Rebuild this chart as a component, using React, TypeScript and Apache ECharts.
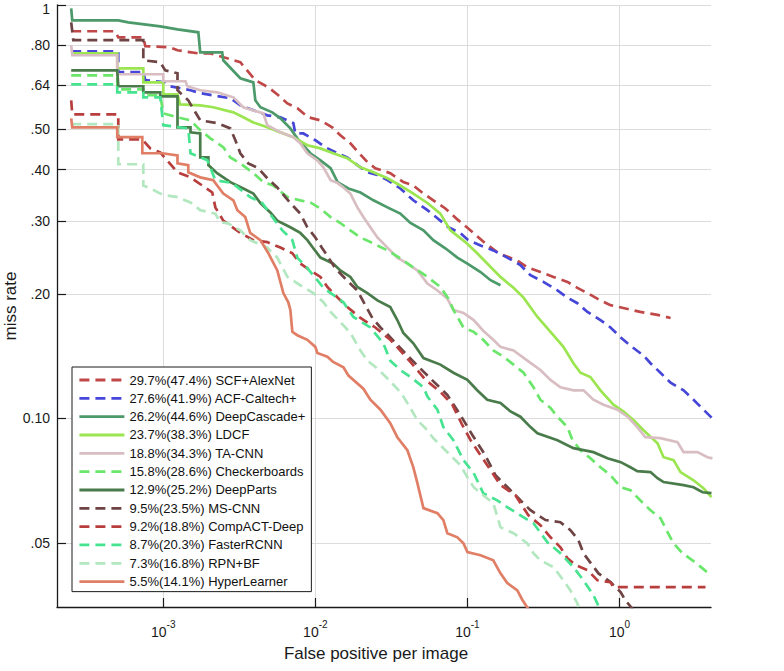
import React, { useEffect, useRef } from 'react';
import * as echarts from 'echarts';

const FONT = '"Liberation Sans", Arial, Helvetica, sans-serif';

// Axis ranges (raw values, log scales)
const xRange = [2e-4, 4];
const yRange = [0.035, 1];

// Tick labels
const xTickValues = [1e-3, 1e-2, 1e-1, 1];
const xTickExponents = ['-3', '-2', '-1', '0'];
const yTickValues = [1, 0.8, 0.64, 0.5, 0.4, 0.3, 0.2, 0.1, 0.05];
const yTickLabels = ['1', '.80', '.64', '.50', '.40', '.30', '.20', '0.10', '.05'];

// Legend names
const seriesNames = [
  '29.7%(47.4%) SCF+AlexNet',
  '27.6%(41.9%) ACF-Caltech+',
  '26.2%(44.6%) DeepCascade+',
  '23.7%(38.3%) LDCF',
  '18.8%(34.3%) TA-CNN',
  '15.8%(28.6%) Checkerboards',
  '12.9%(25.2%) DeepParts',
  '9.5%(23.5%) MS-CNN',
  '9.2%(18.8%) CompACT-Deep',
  '8.7%(20.3%) FasterRCNN',
  '7.3%(16.8%) RPN+BF',
  '5.5%(14.1%) HyperLearner',
];

// Curves: [false positives per image, miss rate]
const scfAlexNet = [
  [2.48e-4, 0.864], [4.83e-4, 0.864], [5.06e-4, 0.835], [7.39e-4, 0.835], [7.62e-4, 0.795],
  [1.11e-3, 0.79], [1.24e-3, 0.777], [1.7e-3, 0.764], [2.04e-3, 0.764], [3.21e-3, 0.727],
  [4.03e-3, 0.658], [4.91e-3, 0.632], [5.71e-3, 0.605], [6.55e-3, 0.578], [7.61e-3, 0.563],
  [8.99e-3, 0.535], [1.08e-2, 0.526], [1.29e-2, 0.506], [1.46e-2, 0.484], [1.7e-2, 0.463],
  [1.92e-2, 0.44], [2.2e-2, 0.417], [2.48e-2, 0.403], [3.11e-2, 0.392], [3.79e-2, 0.373],
  [4.41e-2, 0.366], [5.14e-2, 0.35], [5.97e-2, 0.337], [7.16e-2, 0.322], [8.59e-2, 0.303],
  [0.105, 0.285], [0.127, 0.268], [0.16, 0.251], [0.213, 0.241], [0.248, 0.232],
  [0.302, 0.226], [0.368, 0.22], [0.455, 0.214], [0.529, 0.207], [0.616, 0.201],
  [0.75, 0.193], [0.873, 0.188], [1.06, 0.185], [1.37, 0.181], [1.78, 0.178], [2.17, 0.175],
];
const acfCaltech = [
  [2.48e-4, 0.773], [5.06e-4, 0.773], [5.06e-4, 0.688], [7.39e-4, 0.688], [7.62e-4, 0.658],
  [1.03e-3, 0.65], [1.11e-3, 0.636], [1.51e-3, 0.622], [1.75e-3, 0.612], [2.76e-3, 0.595],
  [3.21e-3, 0.572], [4.83e-3, 0.541], [5.89e-3, 0.535], [7.17e-3, 0.518], [7.38e-3, 0.489],
  [8.34e-3, 0.489], [1.0e-2, 0.471], [1.16e-2, 0.453], [1.4e-2, 0.438], [1.62e-2, 0.428],
  [1.89e-2, 0.41], [2.2e-2, 0.394], [2.56e-2, 0.388], [2.98e-2, 0.377], [3.62e-2, 0.36],
  [4.41e-2, 0.337], [5.46e-2, 0.319], [6.35e-2, 0.305], [7.5e-2, 0.29], [8.99e-2, 0.281],
  [0.1, 0.271], [0.122, 0.262], [0.148, 0.255], [0.183, 0.245], [0.223, 0.235],
  [0.26, 0.222], [0.316, 0.214], [0.391, 0.204], [0.455, 0.196], [0.529, 0.19],
  [0.616, 0.181], [0.75, 0.173], [0.873, 0.166], [1.02, 0.157], [1.18, 0.15],
  [1.44, 0.142], [1.6, 0.136], [1.86, 0.129], [2.17, 0.122], [2.64, 0.117],
  [3.07, 0.111], [3.57, 0.105], [4.09, 0.1],
];
const deepCascade = [
  [2.48e-4, 0.982], [2.52e-4, 0.918], [5.06e-4, 0.918], [5.88e-4, 0.908], [9.55e-4, 0.888],
  [1.24e-3, 0.873], [1.7e-3, 0.859], [1.75e-3, 0.768], [2.44e-3, 0.768], [2.48e-3, 0.735],
  [3.21e-3, 0.665], [3.91e-3, 0.65], [4.03e-3, 0.588], [4.35e-3, 0.566], [5.21e-3, 0.55],
  [5.89e-3, 0.532], [6.85e-3, 0.503], [7.61e-3, 0.476], [9.27e-3, 0.438], [1.08e-2, 0.421],
  [1.26e-2, 0.403], [1.4e-2, 0.373], [1.65e-2, 0.36], [1.98e-2, 0.352], [2.41e-2, 0.337],
  [2.98e-2, 0.324], [3.62e-2, 0.313], [4.22e-2, 0.297], [5.14e-2, 0.285], [5.97e-2, 0.27],
  [7.16e-2, 0.258], [8.59e-2, 0.245], [0.1, 0.237], [0.122, 0.226], [0.142, 0.216], [0.165, 0.21],
];
const ldcf = [
  [2.48e-4, 0.764], [4.98e-4, 0.764], [4.98e-4, 0.703], [7.39e-4, 0.703], [7.39e-4, 0.65],
  [1.0e-3, 0.65], [1.0e-3, 0.608], [1.24e-3, 0.608], [1.29e-3, 0.575], [1.75e-3, 0.572],
  [2.13e-3, 0.566], [2.89e-3, 0.55], [3.36e-3, 0.535], [3.91e-3, 0.52], [4.83e-3, 0.506],
  [5.89e-3, 0.492], [7.17e-3, 0.479], [8.86e-3, 0.458], [1.08e-2, 0.45], [1.31e-2, 0.438],
  [1.62e-2, 0.426], [1.98e-2, 0.405], [2.41e-2, 0.394], [2.98e-2, 0.381], [3.62e-2, 0.366],
  [4.41e-2, 0.35], [5.46e-2, 0.332], [6.64e-2, 0.313], [7.73e-2, 0.285], [9.7e-2, 0.267],
  [0.116, 0.251], [0.135, 0.237], [0.165, 0.22], [0.201, 0.207], [0.234, 0.196],
  [0.289, 0.176], [0.352, 0.162], [0.428, 0.149], [0.498, 0.136], [0.554, 0.129],
  [0.644, 0.126], [0.75, 0.117], [0.913, 0.108], [1.06, 0.104], [1.24, 0.099],
  [1.44, 0.0937], [1.78, 0.0871], [1.95, 0.0806], [2.27, 0.0793], [2.52, 0.0742],
  [3.07, 0.0709], [3.57, 0.0678], [4.03, 0.0645],
];
const taCnn = [
  [2.48e-4, 0.799], [2.52e-4, 0.756], [4.98e-4, 0.756], [4.98e-4, 0.68], [1.0e-3, 0.68],
  [1.0e-3, 0.654], [1.4e-3, 0.654], [1.44e-3, 0.636], [1.75e-3, 0.622], [2.26e-3, 0.615],
  [2.89e-3, 0.598], [3.36e-3, 0.566], [3.91e-3, 0.556], [4.55e-3, 0.547], [4.83e-3, 0.512],
  [5.89e-3, 0.492], [7.17e-3, 0.479], [7.96e-3, 0.463], [8.86e-3, 0.438], [1.03e-2, 0.421],
  [1.13e-2, 0.405], [1.26e-2, 0.377], [1.4e-2, 0.371], [1.53e-2, 0.362], [1.7e-2, 0.35],
  [1.89e-2, 0.324], [2.07e-2, 0.307], [2.3e-2, 0.29], [2.56e-2, 0.274], [2.98e-2, 0.259],
  [3.46e-2, 0.245], [4.03e-2, 0.237], [4.69e-2, 0.228], [5.46e-2, 0.212], [6.35e-2, 0.204],
  [7.38e-2, 0.195], [8.09e-2, 0.183], [9.42e-2, 0.18], [0.11, 0.173], [0.127, 0.163],
  [0.148, 0.155], [0.165, 0.149], [0.201, 0.146], [0.248, 0.138], [0.302, 0.131],
  [0.352, 0.124], [0.409, 0.119], [0.498, 0.117], [0.58, 0.117], [0.674, 0.111],
  [0.785, 0.108], [0.97, 0.105], [1.13, 0.101], [1.31, 0.0953], [1.48, 0.0901],
  [1.86, 0.0896], [2.41, 0.0876], [2.64, 0.0829], [3.26, 0.0829], [3.79, 0.0806], [4.09, 0.0801],
];
const checkerboards = [
  [2.48e-4, 0.676], [4.98e-4, 0.676], [4.98e-4, 0.625], [7.39e-4, 0.625], [7.39e-4, 0.605],
  [9.55e-4, 0.605], [1.0e-3, 0.547], [1.24e-3, 0.535], [1.51e-3, 0.526], [1.75e-3, 0.498],
  [2.04e-3, 0.476], [2.48e-3, 0.453], [2.76e-3, 0.428], [3.21e-3, 0.414], [3.91e-3, 0.392],
  [4.55e-3, 0.373], [5.29e-3, 0.366], [6.55e-3, 0.343], [7.96e-3, 0.337], [9.27e-3, 0.333],
  [1.08e-2, 0.322], [1.26e-2, 0.307], [1.46e-2, 0.297], [1.7e-2, 0.285], [1.98e-2, 0.274],
  [2.41e-2, 0.265], [2.98e-2, 0.255], [3.62e-2, 0.244], [4.41e-2, 0.232], [5.46e-2, 0.22],
  [6.64e-2, 0.208], [7.5e-2, 0.195], [8.09e-2, 0.183], [9.42e-2, 0.166], [0.11, 0.162],
  [0.127, 0.155], [0.148, 0.146], [0.173, 0.141], [0.201, 0.135], [0.234, 0.129],
  [0.272, 0.119], [0.302, 0.111], [0.352, 0.106], [0.391, 0.101], [0.455, 0.0953],
  [0.491, 0.0886], [0.554, 0.0838], [0.644, 0.0801], [0.75, 0.0762], [0.873, 0.0729],
  [1.02, 0.0682], [1.18, 0.0671], [1.37, 0.0634], [1.6, 0.06], [1.86, 0.0574],
  [2.07, 0.0531], [2.27, 0.0499], [2.6, 0.0472], [3.02, 0.0454], [3.52, 0.0434], [3.97, 0.0418],
];
const deepParts = [
  [2.48e-4, 0.695], [4.98e-4, 0.695], [5.06e-4, 0.636], [7.39e-4, 0.636], [7.39e-4, 0.615],
  [9.55e-4, 0.615], [9.55e-4, 0.601], [1.24e-3, 0.601], [1.24e-3, 0.506], [1.51e-3, 0.506],
  [1.51e-3, 0.492], [1.75e-3, 0.489], [1.75e-3, 0.428], [1.98e-3, 0.428], [1.98e-3, 0.41],
  [2.26e-3, 0.392], [2.76e-3, 0.373], [3.36e-3, 0.36], [3.91e-3, 0.35], [4.35e-3, 0.332],
  [5.06e-3, 0.315], [5.62e-3, 0.301], [6.85e-3, 0.29], [7.96e-3, 0.281], [8.86e-3, 0.27],
  [9.7e-3, 0.258], [1.08e-2, 0.245], [1.31e-2, 0.237], [1.46e-2, 0.228], [1.7e-2, 0.22],
  [1.89e-2, 0.208], [2.2e-2, 0.201], [2.56e-2, 0.193], [3.11e-2, 0.186], [3.46e-2, 0.173],
  [3.79e-2, 0.161], [4.41e-2, 0.152], [5.14e-2, 0.14], [6.64e-2, 0.135], [8.09e-2, 0.129],
  [0.1, 0.124], [0.116, 0.117], [0.135, 0.111], [0.165, 0.109], [0.192, 0.104],
  [0.223, 0.101], [0.26, 0.0953], [0.289, 0.0921], [0.391, 0.0886], [0.498, 0.0848],
  [0.674, 0.0829], [0.834, 0.0801], [1.02, 0.0784], [1.18, 0.0762], [1.31, 0.0746],
  [1.6, 0.0742], [1.78, 0.0717], [1.95, 0.0702], [2.64, 0.069], [3.07, 0.0682],
  [3.52, 0.0663], [4.03, 0.066],
];
const msCnn = [
  [2.48e-4, 0.908], [2.56e-4, 0.822], [7.39e-4, 0.822], [7.39e-4, 0.735], [9.55e-4, 0.727],
  [1.03e-3, 0.695], [1.24e-3, 0.684], [1.24e-3, 0.622], [1.46e-3, 0.588], [1.75e-3, 0.526],
  [2.26e-3, 0.518], [2.76e-3, 0.503], [2.98e-3, 0.471], [3.21e-3, 0.438], [3.62e-3, 0.414],
  [4.22e-3, 0.403], [4.83e-3, 0.381], [5.62e-3, 0.362], [6.35e-3, 0.343], [7.06e-3, 0.328],
  [7.96e-3, 0.313], [8.86e-3, 0.29], [1.0e-2, 0.274], [1.11e-2, 0.258], [1.22e-2, 0.245],
  [1.35e-2, 0.231], [1.57e-2, 0.218], [1.89e-2, 0.204], [2.13e-2, 0.188], [2.37e-2, 0.175],
  [2.68e-2, 0.166], [3.02e-2, 0.159], [4.03e-2, 0.142], [5.46e-2, 0.127], [7.38e-2, 0.114],
  [8.99e-2, 0.102], [0.108, 0.0911], [0.131, 0.0815], [0.153, 0.0729], [0.192, 0.0671],
  [0.223, 0.0634], [0.26, 0.06], [0.326, 0.0568], [0.409, 0.0561], [0.476, 0.0537],
  [0.537, 0.0508], [0.58, 0.0472], [0.728, 0.0422], [0.873, 0.0402], [1.02, 0.038],
  [1.09, 0.0364], [1.27, 0.034],
];
const compactDeep = [
  [2.48e-4, 0.588], [2.52e-4, 0.544], [5.06e-4, 0.544], [5.06e-4, 0.473], [7.28e-4, 0.473],
  [8.21e-4, 0.45], [9.55e-4, 0.44], [1.24e-3, 0.394], [1.51e-3, 0.383], [2.1e-3, 0.352],
  [2.2e-3, 0.324], [2.48e-3, 0.301], [3.21e-3, 0.281], [3.91e-3, 0.27], [4.83e-3, 0.267],
  [5.89e-3, 0.259], [7.06e-3, 0.251], [7.96e-3, 0.237], [9.27e-3, 0.228], [1.08e-2, 0.22],
  [1.2e-2, 0.208], [1.31e-2, 0.201], [1.57e-2, 0.188], [1.98e-2, 0.175], [2.48e-2, 0.166],
  [3.11e-2, 0.155], [3.62e-2, 0.146], [4.22e-2, 0.137], [5.3e-2, 0.124], [6.64e-2, 0.116],
  [7.96e-2, 0.108], [9.27e-2, 0.0963], [0.105, 0.0886], [0.122, 0.0815], [0.142, 0.075],
  [0.165, 0.069], [0.207, 0.0652], [0.252, 0.0583], [0.302, 0.0552], [0.352, 0.0516],
  [0.409, 0.0488], [0.455, 0.0459], [0.514, 0.0442], [0.616, 0.043], [0.717, 0.0406],
  [0.873, 0.0402], [0.913, 0.0391], [3.68, 0.0391],
];
const fasterRcnn = [
  [2.48e-4, 0.643], [4.98e-4, 0.643], [4.98e-4, 0.615], [7.39e-4, 0.615], [7.39e-4, 0.598],
  [9.55e-4, 0.598], [1.0e-3, 0.512], [1.46e-3, 0.503], [1.51e-3, 0.438], [1.95e-3, 0.421],
  [2.2e-3, 0.377], [2.84e-3, 0.371], [3.73e-3, 0.343], [4.48e-3, 0.332], [5.21e-3, 0.307],
  [6.07e-3, 0.285], [7.06e-3, 0.27], [7.61e-3, 0.245], [8.86e-3, 0.231], [1.03e-2, 0.216],
  [1.13e-2, 0.207], [1.31e-2, 0.199], [1.53e-2, 0.191], [1.78e-2, 0.176], [2.3e-2, 0.166],
  [2.8e-2, 0.152], [3.11e-2, 0.138], [3.62e-2, 0.131], [4.22e-2, 0.126], [5.14e-2, 0.119],
  [5.46e-2, 0.113], [6.35e-2, 0.105], [6.95e-2, 0.0953], [8.09e-2, 0.0886], [9.42e-2, 0.0793],
  [0.11, 0.0738], [0.127, 0.066], [0.157, 0.0634], [0.183, 0.061], [0.223, 0.0583],
  [0.272, 0.0558], [0.336, 0.0502], [0.409, 0.0472], [0.498, 0.0437], [0.58, 0.0406],
  [0.674, 0.0374], [0.75, 0.0344],
];
const rpnBf = [
  [2.48e-4, 0.515], [5.06e-4, 0.515], [5.06e-4, 0.412], [7.39e-4, 0.412], [7.39e-4, 0.366],
  [8.21e-4, 0.36], [1.0e-3, 0.347], [1.24e-3, 0.343], [1.51e-3, 0.333], [1.75e-3, 0.319],
  [2.2e-3, 0.313], [2.37e-3, 0.298], [2.64e-3, 0.297], [3.21e-3, 0.285], [3.73e-3, 0.27],
  [4.83e-3, 0.259], [5.62e-3, 0.245], [6.55e-3, 0.22], [7.96e-3, 0.21], [9.7e-3, 0.201],
  [1.13e-2, 0.191], [1.26e-2, 0.181], [1.53e-2, 0.168], [1.7e-2, 0.161], [1.98e-2, 0.146],
  [2.2e-2, 0.138], [2.56e-2, 0.132], [2.98e-2, 0.125], [3.46e-2, 0.118], [3.79e-2, 0.113],
  [4.22e-2, 0.106], [4.69e-2, 0.099], [5.3e-2, 0.0947], [5.97e-2, 0.0896], [6.85e-2, 0.0852],
  [7.73e-2, 0.0815], [8.99e-2, 0.0771], [0.1, 0.0721], [0.11, 0.0682], [0.127, 0.0652],
  [0.148, 0.0624], [0.165, 0.0546], [0.201, 0.0528], [0.248, 0.0499], [0.272, 0.0472],
  [0.302, 0.0454], [0.368, 0.0437], [0.428, 0.0406], [0.476, 0.0384], [0.529, 0.0357],
  [0.554, 0.034],
];
const hyperLearner = [
  [2.48e-4, 0.532], [2.52e-4, 0.506], [4.98e-4, 0.506], [4.98e-4, 0.479], [7.28e-4, 0.479],
  [7.28e-4, 0.438], [9.85e-4, 0.438], [1.24e-3, 0.433], [1.24e-3, 0.414], [1.46e-3, 0.41],
  [1.46e-3, 0.394], [1.75e-3, 0.383], [2.13e-3, 0.377], [2.48e-3, 0.35], [2.89e-3, 0.337],
  [3.07e-3, 0.319], [3.46e-3, 0.307], [3.73e-3, 0.281], [4.35e-3, 0.27], [4.91e-3, 0.251],
  [5.62e-3, 0.228], [6.16e-3, 0.201], [6.64e-3, 0.191], [6.85e-3, 0.183], [7.06e-3, 0.162],
  [7.61e-3, 0.159], [8.86e-3, 0.155], [1.0e-2, 0.149], [1.03e-2, 0.144], [1.2e-2, 0.141],
  [1.31e-2, 0.137], [1.53e-2, 0.133], [1.65e-2, 0.127], [2.07e-2, 0.118], [2.3e-2, 0.111],
  [2.68e-2, 0.105], [3.11e-2, 0.0974], [3.46e-2, 0.0901], [4.03e-2, 0.0838], [4.41e-2, 0.0762],
  [4.69e-2, 0.0698], [5.14e-2, 0.0607], [6.35e-2, 0.059], [6.95e-2, 0.0568], [7.38e-2, 0.0528],
  [8.59e-2, 0.0516], [9.42e-2, 0.0499], [0.1, 0.0475], [0.122, 0.0467], [0.148, 0.0454],
  [0.165, 0.0422], [0.183, 0.04], [0.213, 0.0384], [0.23, 0.0364], [0.26, 0.034],
];

const curves = [
  scfAlexNet, acfCaltech, deepCascade, ldcf, taCnn, checkerboards,
  deepParts, msCnn, compactDeep, fasterRcnn, rpnBf, hyperLearner,
];

// Styles
const seriesColors = [
  '#C04848', '#4646D8', '#4C9A6A', '#9BE650', '#D8BEC2', '#6AE66A',
  '#4A7B4A', '#6E4444', '#B83E3E', '#46E391', '#B2E7C0', '#E07E66',
];
const seriesDashed = [true, true, false, false, false, true, false, true, true, true, true, false];

const lg = (v: number) => Math.log10(v);

export default function App() {
  const ref = useRef<HTMLDivElement>(null);

  useEffect(() => {
    if (!ref.current) return;
    const chart = echarts.init(ref.current, undefined, { renderer: 'svg' });

    const series = curves.map((pts, i) => ({
      name: seriesNames[i],
      type: 'line',
      data: pts.map(([f, m]) => [lg(f), lg(m)]),
      showSymbol: false,
      symbol: 'none',
      silent: true,
      clip: true,
      color: seriesColors[i],
      lineStyle: {
        color: seriesColors[i],
        width: 2.7,
        type: seriesDashed[i] ? [10, 6] : 'solid',
        cap: 'butt',
        join: 'miter',
      },
      emphasis: { disabled: true },
      z: 2 + i * 0.01,
    }));

    const option: any = {
      animation: false,
      backgroundColor: '#ffffff',
      textStyle: { fontFamily: FONT },
      grid: {
        left: 57, top: 5, width: 654, height: 602,
        containLabel: false, outerBoundsMode: 'none',
      },
      xAxis: {
        type: 'value',
        min: lg(xRange[0]),
        max: lg(xRange[1]),
        name: 'False positive per image',
        nameLocation: 'middle',
        nameGap: 38,
        nameMoveOverlap: false,
        nameTextStyle: { fontSize: 17, color: '#1a1a1a', fontFamily: FONT, padding: [0, 16, 0, 0] },
        axisLine: { show: true, onZero: false, lineStyle: { color: '#1a1a1a', width: 1.3 } },
        axisTick: {
          show: true,
          inside: true,
          length: 9,
          customValues: xTickValues.map(lg),
          lineStyle: { color: '#1a1a1a', width: 1.2 },
        },
        axisLabel: {
          show: true,
          margin: 12,
          customValues: xTickValues.map(lg),
          formatter: (v: number) => {
            let idx = 0;
            let best = Infinity;
            xTickValues.forEach((t, k) => {
              const d = Math.abs(lg(t) - v);
              if (d < best) { best = d; idx = k; }
            });
            return `{b|10}{s|${xTickExponents[idx]}}`;
          },
          rich: {
            b: { fontSize: 14, color: '#1a1a1a', fontFamily: FONT, verticalAlign: 'bottom', lineHeight: 20 },
            s: { fontSize: 10, color: '#1a1a1a', fontFamily: FONT, verticalAlign: 'top', lineHeight: 12 },
          },
        },
        splitLine: { show: true, lineStyle: { color: '#dcdcdc', width: 1 } },
        minorTick: { show: false },
      },
      yAxis: {
        type: 'value',
        min: lg(yRange[0]),
        max: lg(yRange[1]),
        name: 'miss rate',
        nameLocation: 'middle',
        nameRotate: 90,
        nameGap: 38,
        nameMoveOverlap: false,
        nameTextStyle: { fontSize: 17, color: '#1a1a1a', fontFamily: FONT },
        axisLine: { show: true, onZero: false, lineStyle: { color: '#1a1a1a', width: 1.3 } },
        axisTick: {
          show: true,
          inside: true,
          length: 9,
          customValues: yTickValues.map(lg),
          lineStyle: { color: '#1a1a1a', width: 1.2 },
        },
        axisLabel: {
          show: true,
          margin: 7,
          fontSize: 14,
          color: '#1a1a1a',
          fontFamily: FONT,
          customValues: yTickValues.map(lg),
          formatter: (v: number) => {
            let idx = 0;
            let best = Infinity;
            yTickValues.forEach((t, k) => {
              const d = Math.abs(lg(t) - v);
              if (d < best) { best = d; idx = k; }
            });
            return idx === 0 ? `{top|${yTickLabels[idx]}}` : yTickLabels[idx];
          },
          rich: {
            top: { fontSize: 14, color: '#1a1a1a', fontFamily: FONT, padding: [7, 0, 0, 0] },
          },
        },
        splitLine: { show: true, lineStyle: { color: '#dcdcdc', width: 1 } },
      },
      legend: {
        show: true,
        orient: 'vertical',
        left: 72,
        top: 367,
        itemWidth: 45,
        itemHeight: 14,
        itemGap: 4.33,
        padding: [6, 6, 3, 6],
        borderColor: '#1a1a1a',
        borderWidth: 1,
        borderRadius: 0,
        backgroundColor: '#ffffff',
        selectedMode: false,
        lineStyle: { width: 2.8 },
        itemStyle: { opacity: 0, borderWidth: 0 },
        textStyle: { fontSize: 13, color: '#111111', fontFamily: FONT, lineHeight: 14 },
        data: seriesNames,
        z: 10,
      },
      series,
    };

    chart.setOption(option);
    return () => chart.dispose();
  }, []);

  return (
    <div
      ref={ref}
      style={{ position: 'absolute', left: 0, top: 0, width: 784, height: 671, background: '#fff' }}
    />
  );
}
